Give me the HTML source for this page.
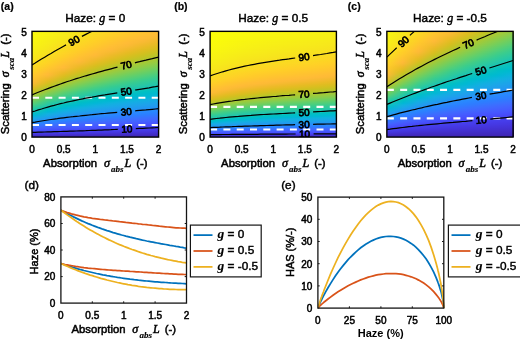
<!DOCTYPE html>
<html><head><meta charset="utf-8"><title>Haze figure</title>
<style>
html,body{margin:0;padding:0;background:#fff}
#fig{filter:blur(.35px);position:relative;width:520px;height:340px;overflow:hidden;background:#fff;font-family:"Liberation Sans",sans-serif}
.hm{position:absolute}
.hm i{display:block;height:1px;width:100%}
svg{position:absolute;left:0;top:0}
text{font-family:"Liberation Sans",sans-serif;fill:#000;stroke:#000;stroke-width:0.5px}
.t{font-size:10px}
.l{font-size:11.3px}
.h{font-size:11px}
.s{font-family:"Liberation Serif",serif;font-style:italic;font-size:12px}
.u{font-family:"Liberation Serif",serif;font-style:italic;font-size:9px;font-weight:bold;stroke-width:.15px}
.c{font-size:10px;stroke-width:.7px}
.p{font-size:10.5px;font-weight:bold;stroke-width:.2px}
.q{font-size:11.8px;stroke-width:.45px}
.g{font-family:"Liberation Serif",serif;font-style:italic;font-size:13.5px;font-weight:bold;stroke-width:.1px}
.k{font-size:11.8px;stroke-width:.45px}
.m{font-size:11.8px;stroke-width:.45px}
</style></head><body><div id="fig">
<div class="hm" style="left:32px;top:31px;width:127px;height:106px"><i style="background:linear-gradient(90deg,#fafb0a,#f8f411,#f7ed18,#f7e51c,#fadc20,#fed325,#ffcb29,#ffc42f,#ffbe34)"></i><i style="background:linear-gradient(90deg,#fafa0b,#f8f412,#f7ec18,#f7e41d,#fadb21,#fed226,#ffca2a,#ffc330,#ffbc35)"></i><i style="background:linear-gradient(90deg,#fafa0b,#f8f313,#f7eb19,#f7e31d,#fbda22,#ffd126,#ffc92b,#ffc131,#ffbb36)"></i><i style="background:linear-gradient(90deg,#faf90c,#f8f313,#f7eb19,#f8e21e,#fbd822,#ffcf27,#ffc72c,#ffc032,#feba36)"></i><i style="background:linear-gradient(90deg,#faf90d,#f8f214,#f7ea1a,#f8e11e,#fcd723,#ffce28,#ffc62d,#ffbf33,#fcba36)"></i><i style="background:linear-gradient(90deg,#f9f90d,#f7f114,#f7e91a,#f8df1f,#fcd624,#ffcd29,#ffc52f,#ffbd34,#faba34)"></i><i style="background:linear-gradient(90deg,#f9f80e,#f7f115,#f7e81b,#f9de1f,#fdd524,#ffcb29,#ffc330,#ffbc36,#f8ba33)"></i><i style="background:linear-gradient(90deg,#f9f70e,#f7f016,#f7e71b,#f9dd20,#fed325,#ffca2a,#ffc231,#ffbb36,#f5ba30)"></i><i style="background:linear-gradient(90deg,#f9f70f,#f7ef16,#f7e61c,#fadc21,#fed226,#ffc92b,#ffc032,#fdba36,#f3ba2e)"></i><i style="background:linear-gradient(90deg,#f9f610,#f7ee17,#f7e51c,#fadb21,#ffd026,#ffc72d,#ffbf33,#fbba35,#f0ba2b)"></i><i style="background:linear-gradient(90deg,#f9f610,#f7ed17,#f7e41d,#fbd922,#ffcf27,#ffc62e,#ffbd34,#f9ba34,#eeba29)"></i><i style="background:linear-gradient(90deg,#f8f511,#f7ed18,#f7e31d,#fbd823,#ffce28,#ffc42f,#ffbc36,#f7ba32,#ebbb26)"></i><i style="background:linear-gradient(90deg,#f8f411,#f7ec19,#f8e11e,#fcd723,#ffcc29,#ffc330,#ffbb36,#f4ba2f,#e8bb24)"></i><i style="background:linear-gradient(90deg,#f8f412,#f7eb19,#f8e01e,#fdd524,#ffcb2a,#ffc131,#fdba36,#f2ba2c,#e5bc23)"></i><i style="background:linear-gradient(90deg,#f8f313,#f7ea1a,#f8df1f,#fdd425,#ffc92b,#ffc033,#fbba35,#efba2a,#e2bd21)"></i><i style="background:linear-gradient(90deg,#f8f213,#f7e91a,#f9de20,#fed226,#ffc82c,#ffbe34,#f9ba33,#ecbb27,#debd20)"></i><i style="background:linear-gradient(90deg,#f7f214,#f7e81b,#f9dc20,#ffd126,#ffc62d,#ffbd35,#f6ba31,#e9bb25,#dbbe1f)"></i><i style="background:linear-gradient(90deg,#f7f115,#f7e71c,#fadb21,#ffcf27,#ffc42f,#ffbb36,#f3ba2e,#e6bc23,#d7bf1f)"></i><i style="background:linear-gradient(90deg,#f7f015,#f7e61c,#fbda22,#ffce28,#ffc330,#feba36,#f1ba2b,#e2bc21,#d3c01f)"></i><i style="background:linear-gradient(90deg,#f7ef16,#f7e41d,#fbd822,#ffcc29,#ffc131,#fbba35,#eeba29,#dfbd20,#cfc11f)"></i><i style="background:linear-gradient(90deg,#f7ee17,#f7e31d,#fcd723,#ffca2a,#ffbf33,#f9ba34,#ebbb26,#dbbe20,#cbc220)"></i><i style="background:linear-gradient(90deg,#f7ed17,#f8e21e,#fdd524,#ffc92b,#ffbe34,#f6ba31,#e7bb24,#d7bf1f,#c6c322)"></i><i style="background:linear-gradient(90deg,#f7ec18,#f8e11e,#fed425,#ffc72d,#ffbc35,#f3ba2e,#e4bc22,#d3c01f,#c1c424)"></i><i style="background:linear-gradient(90deg,#f7eb19,#f8df1f,#fed226,#ffc52e,#ffbb36,#f0ba2b,#e0bd21,#cfc11f,#bdc527)"></i><i style="background:linear-gradient(90deg,#f7ea19,#f9de20,#ffd026,#ffc42f,#fdba36,#edba28,#dcbe20,#cac220,#b8c62a)"></i><i style="background:linear-gradient(90deg,#f7e91a,#f9dc20,#ffcf27,#ffc231,#faba35,#eabb26,#d8bf1f,#c6c322,#b2c72d)"></i><i style="background:linear-gradient(90deg,#f7e81b,#fadb21,#ffcd28,#ffc032,#f7ba32,#e7bc23,#d4c01f,#c1c425,#adc831)"></i><i style="background:linear-gradient(90deg,#f7e71b,#fbd922,#ffcb2a,#ffbe34,#f4ba2f,#e3bc22,#d0c11f,#bcc528,#a8c934)"></i><i style="background:linear-gradient(90deg,#f7e61c,#fcd823,#ffc92b,#ffbd35,#f1ba2c,#dfbd20,#cbc220,#b6c62b,#a3ca38)"></i><i style="background:linear-gradient(90deg,#f7e41d,#fcd624,#ffc82c,#ffbb36,#eeba29,#dbbe1f,#c6c322,#b1c72e,#9dca3c)"></i><i style="background:linear-gradient(90deg,#f7e31d,#fdd424,#ffc62e,#fdba36,#ebbb26,#d6bf1f,#c1c425,#abc832,#98cb40)"></i><i style="background:linear-gradient(90deg,#f8e21e,#fed325,#ffc42f,#faba35,#e7bc24,#d2c01f,#bbc528,#a6c935,#92cc44)"></i><i style="background:linear-gradient(90deg,#f8e01e,#ffd126,#ffc231,#f7ba32,#e3bc22,#cdc120,#b6c62b,#a1ca39,#8dcd49)"></i><i style="background:linear-gradient(90deg,#f8df1f,#ffcf27,#ffc032,#f4ba2f,#dfbd20,#c8c321,#b0c72f,#9bcb3d,#87cd4d)"></i><i style="background:linear-gradient(90deg,#f9dd20,#ffcd28,#ffbe34,#f0ba2b,#dabe1f,#c2c424,#aac832,#95cc42,#81ce52)"></i><i style="background:linear-gradient(90deg,#fadc21,#ffcb2a,#ffbc36,#edba28,#d5bf1f,#bcc527,#a5c936,#90cc46,#7bce57)"></i><i style="background:linear-gradient(90deg,#fada22,#ffc92b,#ffbb37,#e9bb25,#d0c11f,#b6c62b,#9fca3a,#8acd4b,#74cf5b)"></i><i style="background:linear-gradient(90deg,#fbd823,#ffc72d,#fcba35,#e5bc22,#cbc220,#b0c72f,#99cb3f,#83cd50,#6ecf60)"></i><i style="background:linear-gradient(90deg,#fcd623,#ffc52e,#f8ba33,#e0bd21,#c5c322,#aac832,#93cc44,#7dce55,#67cf65)"></i><i style="background:linear-gradient(90deg,#fdd424,#ffc330,#f5ba30,#dbbe20,#bfc426,#a4c936,#8dcd49,#76cf5a,#61cf6b)"></i><i style="background:linear-gradient(90deg,#fed225,#ffc132,#f1ba2c,#d6bf1f,#b9c629,#9eca3b,#87cd4e,#70cf5f,#5bcf70)"></i><i style="background:linear-gradient(90deg,#ffd026,#ffbf33,#edba28,#d1c01f,#b2c72d,#98cb40,#80ce53,#69cf64,#55cf75)"></i><i style="background:linear-gradient(90deg,#ffce28,#ffbc35,#e9bb25,#cbc220,#acc831,#92cc45,#79ce58,#63cf69,#4fcf7a)"></i><i style="background:linear-gradient(90deg,#ffcc29,#ffbb36,#e4bc22,#c5c323,#a6c936,#8bcd4a,#72cf5d,#5ccf6f,#49ce80)"></i><i style="background:linear-gradient(90deg,#ffca2a,#fcba35,#dfbd21,#bfc426,#9fca3a,#84cd50,#6bcf63,#56cf75,#43ce85)"></i><i style="background:linear-gradient(90deg,#ffc82c,#f8ba33,#dabe1f,#b8c62a,#98cb3f,#7dce55,#64cf68,#50cf7a,#3dcd8a)"></i><i style="background:linear-gradient(90deg,#ffc52e,#f4ba2f,#d4c01f,#b0c72e,#92cc45,#76cf5a,#5ecf6e,#4ace7f,#38cd8f)"></i><i style="background:linear-gradient(90deg,#ffc330,#f0ba2b,#cec11f,#aac833,#8acd4b,#6ecf60,#57cf74,#43ce84,#34cc93)"></i><i style="background:linear-gradient(90deg,#ffc132,#ecbb27,#c8c221,#a3ca38,#83ce50,#67cf66,#51cf79,#3dcd8a,#31cb98)"></i><i style="background:linear-gradient(90deg,#ffbe34,#e7bc23,#c1c425,#9ccb3d,#7bce56,#60cf6c,#4ace7f,#38cd8f,#2dca9d)"></i><i style="background:linear-gradient(90deg,#ffbc36,#e1bd21,#b9c529,#94cc43,#74cf5c,#59cf72,#43ce84,#34cc94,#2bc8a1)"></i><i style="background:linear-gradient(90deg,#feba36,#dcbe20,#b2c72e,#8dcd49,#6ccf62,#52cf78,#3dcd8a,#30cb99,#28c7a6)"></i><i style="background:linear-gradient(90deg,#faba34,#d6bf1f,#aac832,#85cd4f,#64cf68,#4bce7e,#38cc8f,#2dc99d,#24c6aa)"></i><i style="background:linear-gradient(90deg,#f6ba31,#cfc11f,#a3ca38,#7dce55,#5ccf6f,#44ce84,#33cb95,#2ac8a2,#20c5ae)"></i><i style="background:linear-gradient(90deg,#f1ba2c,#c8c221,#9bcb3d,#74cf5b,#55cf76,#3dcd8a,#30ca9a,#27c7a7,#1ac4b3)"></i><i style="background:linear-gradient(90deg,#edbb28,#c0c425,#93cc44,#6ccf62,#4ecf7c,#37cc8f,#2cc99f,#23c6ab,#13c3b7)"></i><i style="background:linear-gradient(90deg,#e7bb24,#b8c62a,#8bcd4a,#63cf69,#46ce82,#33cb95,#29c8a4,#1ec4b0,#0dc2bb)"></i><i style="background:linear-gradient(90deg,#e1bd21,#afc72f,#82ce51,#5bcf70,#3fce88,#2fca9b,#26c6a8,#18c3b4,#06c1bf)"></i><i style="background:linear-gradient(90deg,#dbbe1f,#a7c934,#79ce58,#53cf77,#38cd8f,#2cc9a0,#21c5ad,#11c2b8,#00bfc2)"></i><i style="background:linear-gradient(90deg,#d4c01f,#9fca3a,#70cf5f,#4bcf7e,#33cb95,#28c7a5,#1bc4b2,#0ac1bc,#00bec6)"></i><i style="background:linear-gradient(90deg,#cdc120,#96cb41,#67cf66,#43ce85,#2fca9a,#24c6aa,#14c3b7,#02c0c1,#00bdca)"></i><i style="background:linear-gradient(90deg,#c4c323,#8ecc48,#5ecf6e,#3ccd8b,#2bc9a0,#1fc5af,#0dc2bb,#00bfc5,#00bbce)"></i><i style="background:linear-gradient(90deg,#bcc528,#84cd4f,#56cf75,#35cc92,#28c7a6,#18c3b4,#05c0bf,#00bdc8,#00b9d1)"></i><i style="background:linear-gradient(90deg,#b2c72d,#7bce57,#4dcf7d,#31cb98,#23c6ab,#10c2b9,#00bfc3,#00bccc,#00b8d5)"></i><i style="background:linear-gradient(90deg,#a9c933,#71cf5e,#44ce84,#2dc99e,#1dc4b0,#08c1bd,#00bec7,#00bad0,#06b6d8)"></i><i style="background:linear-gradient(90deg,#a0ca39,#67cf66,#3ccd8b,#29c8a4,#16c3b6,#00c0c2,#00bccb,#00b8d4,#0bb3db)"></i><i style="background:linear-gradient(90deg,#97cb40,#5dcf6e,#35cc92,#24c6aa,#0dc2ba,#00bec6,#00bad0,#05b6d8,#10b1df)"></i><i style="background:linear-gradient(90deg,#8ecc48,#54cf76,#30ca99,#1ec4b0,#04c0bf,#00bccb,#00b8d4,#0bb4db,#13afe2)"></i><i style="background:linear-gradient(90deg,#84cd50,#4bce7e,#2cc9a0,#16c3b6,#00bfc4,#00bbcf,#05b6d7,#10b1de,#15ace4)"></i><i style="background:linear-gradient(90deg,#79ce58,#41ce86,#27c7a6,#0dc2bb,#00bdc9,#00b8d3,#0bb4db,#13afe2,#18a9e6)"></i><i style="background:linear-gradient(90deg,#6ecf60,#39cd8e,#22c5ac,#03c0c0,#00bbcd,#04b6d7,#10b1df,#16ace4,#1aa7e8)"></i><i style="background:linear-gradient(90deg,#64cf69,#32cb96,#1ac4b3,#00bec5,#00b9d2,#0bb4db,#13aee2,#18a9e7,#1ca4ea)"></i><i style="background:linear-gradient(90deg,#5acf72,#2dca9d,#11c2b9,#00bcca,#03b7d6,#10b1df,#16abe5,#1aa6e9,#1ea1eb)"></i><i style="background:linear-gradient(90deg,#50cf7a,#29c8a4,#06c1be,#00bacf,#0ab4db,#14aee2,#18a8e7,#1da3ea,#209eed)"></i><i style="background:linear-gradient(90deg,#45ce83,#23c6ab,#00bfc4,#00b8d4,#10b1df,#16abe5,#1ba5e9,#1fa0ec,#219af0)"></i><i style="background:linear-gradient(90deg,#3ccd8b,#1cc4b2,#00bdca,#07b5d9,#14aee2,#19a8e8,#1da2eb,#209cee,#2397f2)"></i><i style="background:linear-gradient(90deg,#34cc94,#11c2b8,#00bacf,#0eb2dd,#17abe5,#1ca4ea,#1f9eed,#2199f1,#2594f5)"></i><i style="background:linear-gradient(90deg,#2eca9c,#05c0bf,#00b8d5,#13afe1,#19a7e8,#1ea1eb,#209bef,#2496f3,#2890f7)"></i><i style="background:linear-gradient(90deg,#29c8a3,#00bec6,#09b4da,#16abe5,#1ca3ea,#209dee,#2297f2,#2792f6,#288dfa)"></i><i style="background:linear-gradient(90deg,#24c6ab,#00bccc,#10b1df,#19a7e8,#1fa0ec,#2199f1,#2593f5,#288ef9,#2989fd)"></i><i style="background:linear-gradient(90deg,#1bc4b2,#00b9d2,#14ade3,#1ca3ea,#209cef,#2495f4,#288ff8,#298bfc,#2986ff)"></i><i style="background:linear-gradient(90deg,#0fc2ba,#06b5d8,#18a9e7,#1f9fec,#2298f2,#2791f7,#288cfb,#2987ff,#2a82ff)"></i><i style="background:linear-gradient(90deg,#00c0c2,#0fb2de,#1ba5e9,#209bef,#2693f5,#288dfa,#2988fe,#2a83ff,#2c7eff)"></i><i style="background:linear-gradient(90deg,#00bdca,#14ade3,#1ea0ec,#2396f3,#288ff9,#2989fd,#2a84ff,#2b80ff,#307aff)"></i><i style="background:linear-gradient(90deg,#00b9d1,#18a9e7,#209bef,#2792f6,#298bfc,#2a85ff,#2b80ff,#2f7bff,#3476ff)"></i><i style="background:linear-gradient(90deg,#07b5d9,#1ca3ea,#2396f3,#288dfa,#2987ff,#2b81ff,#2e7cff,#3377ff,#3972ff)"></i><i style="background:linear-gradient(90deg,#11b0e0,#1f9eed,#2791f7,#2989fe,#2a82ff,#2d7dff,#3378ff,#3872ff,#3d6dff)"></i><i style="background:linear-gradient(90deg,#16abe5,#2299f1,#288cfb,#2a84ff,#2c7eff,#3278ff,#3773ff,#3c6eff,#4069ff)"></i><i style="background:linear-gradient(90deg,#1ba5e9,#2693f6,#2987ff,#2b80ff,#3179ff,#3773ff,#3c6eff,#3f6aff,#4265ff)"></i><i style="background:linear-gradient(90deg,#1f9eed,#288dfa,#2a83ff,#2f7bff,#3674ff,#3c6fff,#3f6aff,#4265ff,#4361ff)"></i><i style="background:linear-gradient(90deg,#2298f2,#2987ff,#2d7dff,#3575ff,#3b6fff,#3f6aff,#4265ff,#4361ff,#445dff)"></i><i style="background:linear-gradient(90deg,#2890f7,#2b82ff,#3378ff,#3b70ff,#3f6aff,#4265ff,#4361ff,#445cff,#4558ff)"></i><i style="background:linear-gradient(90deg,#298afd,#2f7cff,#3971ff,#3f6aff,#4265ff,#4360ff,#455cff,#4558ff,#4654ff)"></i><i style="background:linear-gradient(90deg,#2a83ff,#3675ff,#3e6cff,#4265ff,#4360ff,#455cff,#4558ff,#4654ff,#4650fc)"></i><i style="background:linear-gradient(90deg,#2f7bff,#3c6eff,#4166ff,#4360ff,#455bff,#4557ff,#4653fe,#464ffc,#464cf9)"></i><i style="background:linear-gradient(90deg,#3773ff,#4167ff,#4360ff,#455bff,#4656ff,#4652fe,#464ffb,#464bf8,#4647f5)"></i><i style="background:linear-gradient(90deg,#3f6bff,#4361ff,#455aff,#4655ff,#4651fd,#464dfa,#464af7,#4646f4,#4643f1)"></i><i style="background:linear-gradient(90deg,#4363ff,#455aff,#4654ff,#4650fc,#464cf9,#4649f6,#4645f3,#4642f0,#463fed)"></i><i style="background:linear-gradient(90deg,#455bff,#4653fe,#464efb,#464af8,#4647f5,#4644f2,#4640ee,#463eeb,#463be8)"></i><i style="background:linear-gradient(90deg,#4652fe,#464dfa,#4648f6,#4645f3,#4642f0,#463fec,#463ce9,#453ae6,#4538e2)"></i><i style="background:linear-gradient(90deg,#464af8,#4646f4,#4642f0,#463fed,#463ce9,#453ae6,#4538e3,#4536df,#4435dc)"></i><i style="background:linear-gradient(90deg,#4642f0,#463fec,#463ce9,#453ae5,#4538e2,#4536de,#4434db,#4433d8,#4332d5)"></i><i style="background:linear-gradient(90deg,#453ae6,#4538e3,#4536df,#4435dc,#4433d8,#4432d5,#4331d2,#4330cf,#422fcd)"></i><i style="background:linear-gradient(90deg,#4434da,#4432d6,#4331d3,#4330d0,#422fcd,#422ecb,#422ec9,#422dc7,#412cc5)"></i><i style="background:linear-gradient(90deg,#422eca,#422dc8,#412dc6,#412cc4,#412bc2,#412bc1,#402abf,#402abe,#4029bd)"></i><i style="background:linear-gradient(90deg,#4028ba,#3f28b9,#3f28b8,#3f27b7,#3f27b7,#3f27b6,#3f27b5,#3f27b5,#3f26b4)"></i></div>
<div class="hm" style="left:210px;top:31px;width:127px;height:106px"><i style="background:linear-gradient(90deg,#fbfd08,#fbfd08,#fafa0b,#f9f80d,#f9f70f,#f8f511,#f8f412,#f8f214,#f7f015)"></i><i style="background:linear-gradient(90deg,#fbfd08,#fbfc09,#fafa0c,#f9f80e,#f9f610,#f8f511,#f8f313,#f7f114,#f7ef16)"></i><i style="background:linear-gradient(90deg,#fbfd08,#fafc09,#faf90c,#f9f70e,#f8f610,#f8f412,#f8f213,#f7f115,#f7ef16)"></i><i style="background:linear-gradient(90deg,#fbfd08,#fafb0a,#faf90d,#f9f70f,#f8f511,#f8f312,#f8f214,#f7f015,#f7ee17)"></i><i style="background:linear-gradient(90deg,#fbfd08,#fafb0a,#f9f90d,#f9f610,#f8f511,#f8f313,#f7f114,#f7ef16,#f7ed17)"></i><i style="background:linear-gradient(90deg,#fbfd08,#fafb0b,#f9f80e,#f9f610,#f8f412,#f8f213,#f7f115,#f7ef16,#f7ed18)"></i><i style="background:linear-gradient(90deg,#fbfd08,#fafa0b,#f9f80e,#f8f511,#f8f312,#f7f214,#f7f015,#f7ee17,#f7ec19)"></i><i style="background:linear-gradient(90deg,#fbfd08,#fafa0c,#f9f70f,#f8f511,#f8f313,#f7f115,#f7ef16,#f7ed17,#f7eb19)"></i><i style="background:linear-gradient(90deg,#fbfd08,#faf90c,#f9f70f,#f8f412,#f8f214,#f7f015,#f7ef16,#f7ed18,#f7ea1a)"></i><i style="background:linear-gradient(90deg,#fbfc09,#f9f90d,#f9f610,#f8f412,#f7f214,#f7f016,#f7ee17,#f7ec18,#f7e91a)"></i><i style="background:linear-gradient(90deg,#fafc09,#f9f80d,#f8f510,#f8f313,#f7f115,#f7ef16,#f7ed18,#f7eb19,#f7e91a)"></i><i style="background:linear-gradient(90deg,#fafb0a,#f9f80e,#f8f511,#f8f213,#f7f015,#f7ee17,#f7ec18,#f7ea1a,#f7e81b)"></i><i style="background:linear-gradient(90deg,#fafb0a,#f9f70e,#f8f412,#f7f214,#f7f016,#f7ee17,#f7ec19,#f7e91a,#f7e71b)"></i><i style="background:linear-gradient(90deg,#fafb0b,#f9f70f,#f8f412,#f7f115,#f7ef16,#f7ed18,#f7eb19,#f7e91b,#f7e61c)"></i><i style="background:linear-gradient(90deg,#fafa0b,#f9f610,#f8f313,#f7f015,#f7ee17,#f7ec18,#f7ea1a,#f7e81b,#f7e51c)"></i><i style="background:linear-gradient(90deg,#fafa0c,#f9f610,#f8f213,#f7f016,#f7ed17,#f7eb19,#f7e91a,#f7e71b,#f7e41d)"></i><i style="background:linear-gradient(90deg,#faf90c,#f8f511,#f7f214,#f7ef16,#f7ec18,#f7ea19,#f7e81b,#f7e61c,#f7e31d)"></i><i style="background:linear-gradient(90deg,#f9f90d,#f8f511,#f7f115,#f7ee17,#f7ec19,#f7e91a,#f7e71b,#f7e51c,#f8e21e)"></i><i style="background:linear-gradient(90deg,#f9f80e,#f8f412,#f7f015,#f7ed17,#f7eb19,#f7e81b,#f7e61c,#f7e41d,#f8e11e)"></i><i style="background:linear-gradient(90deg,#f9f80e,#f8f313,#f7f016,#f7ec18,#f7ea1a,#f7e71b,#f7e51c,#f7e31d,#f8e01f)"></i><i style="background:linear-gradient(90deg,#f9f70f,#f8f313,#f7ef16,#f7ec19,#f7e91a,#f7e71c,#f7e41d,#f8e21e,#f9de1f)"></i><i style="background:linear-gradient(90deg,#f9f610,#f7f214,#f7ee17,#f7eb19,#f7e81b,#f7e51c,#f7e31d,#f8e01e,#f9dd20)"></i><i style="background:linear-gradient(90deg,#f8f610,#f7f115,#f7ed18,#f7ea1a,#f7e71b,#f7e41d,#f8e21e,#f8df1f,#fadc20)"></i><i style="background:linear-gradient(90deg,#f8f511,#f7f015,#f7ec18,#f7e91a,#f7e61c,#f7e31d,#f8e11e,#f9de1f,#fadb21)"></i><i style="background:linear-gradient(90deg,#f8f412,#f7ef16,#f7eb19,#f7e81b,#f7e51c,#f7e21e,#f8e01f,#f9dd20,#fbd922)"></i><i style="background:linear-gradient(90deg,#f8f412,#f7ef16,#f7ea19,#f7e71b,#f7e41d,#f8e11e,#f9de1f,#fadb21,#fbd823)"></i><i style="background:linear-gradient(90deg,#f8f313,#f7ee17,#f7e91a,#f7e61c,#f7e31d,#f8e01f,#f9dd20,#fada21,#fcd723)"></i><i style="background:linear-gradient(90deg,#f8f214,#f7ed18,#f7e81b,#f7e51c,#f8e11e,#f9df1f,#fadc21,#fbd922,#fdd524)"></i><i style="background:linear-gradient(90deg,#f7f114,#f7ec18,#f7e71b,#f7e31d,#f8e01e,#f9dd20,#fada21,#fcd723,#fdd425)"></i><i style="background:linear-gradient(90deg,#f7f115,#f7eb19,#f7e61c,#f7e21e,#f8df1f,#fadc21,#fbd922,#fcd624,#fed225)"></i><i style="background:linear-gradient(90deg,#f7f016,#f7ea1a,#f7e51c,#f8e11e,#f9de20,#fada21,#fcd823,#fdd424,#ffd126)"></i><i style="background:linear-gradient(90deg,#f7ef16,#f7e91a,#f7e41d,#f8e01f,#f9dc20,#fbd922,#fcd624,#fed325,#ffcf27)"></i><i style="background:linear-gradient(90deg,#f7ee17,#f7e81b,#f7e31d,#f9de1f,#fadb21,#fcd823,#fdd524,#ffd126,#ffce28)"></i><i style="background:linear-gradient(90deg,#f7ed18,#f7e71c,#f8e11e,#f9dd20,#fbd922,#fcd624,#fed325,#ffd027,#ffcc29)"></i><i style="background:linear-gradient(90deg,#f7ec18,#f7e51c,#f8e01f,#fadb21,#fbd823,#fdd524,#ffd126,#ffce28,#ffca2a)"></i><i style="background:linear-gradient(90deg,#f7eb19,#f7e41d,#f9df1f,#fada21,#fcd623,#fed325,#ffd027,#ffcc29,#ffc92b)"></i><i style="background:linear-gradient(90deg,#f7ea1a,#f7e31d,#f9dd20,#fbd822,#fdd524,#ffd126,#ffce28,#ffcb2a,#ffc72d)"></i><i style="background:linear-gradient(90deg,#f7e91b,#f8e21e,#fadc21,#fcd723,#fed325,#ffd027,#ffcc29,#ffc92b,#ffc52e)"></i><i style="background:linear-gradient(90deg,#f7e71b,#f8e01e,#fada21,#fdd524,#ffd126,#ffce28,#ffcb2a,#ffc72c,#ffc42f)"></i><i style="background:linear-gradient(90deg,#f7e61c,#f9df1f,#fbd922,#fed425,#ffd027,#ffcc29,#ffc92b,#ffc62e,#ffc231)"></i><i style="background:linear-gradient(90deg,#f7e51c,#f9dd20,#fcd723,#fed226,#ffce28,#ffca2a,#ffc72d,#ffc42f,#ffc032)"></i><i style="background:linear-gradient(90deg,#f7e31d,#fadb21,#fdd524,#ffd027,#ffcc29,#ffc82b,#ffc52e,#ffc231,#ffbe34)"></i><i style="background:linear-gradient(90deg,#f8e21e,#fada22,#fed325,#ffce28,#ffca2a,#ffc72d,#ffc32f,#ffc032,#ffbc35)"></i><i style="background:linear-gradient(90deg,#f8e01e,#fbd822,#fed226,#ffcc29,#ffc82c,#ffc52e,#ffc131,#ffbe34,#ffbb36)"></i><i style="background:linear-gradient(90deg,#f8df1f,#fcd623,#ffd027,#ffca2a,#ffc62d,#ffc330,#ffc033,#ffbc35,#fdba36)"></i><i style="background:linear-gradient(90deg,#f9dd20,#fdd524,#ffce28,#ffc92b,#ffc42f,#ffc132,#ffbe34,#ffbb36,#faba34)"></i><i style="background:linear-gradient(90deg,#fadb21,#fed325,#ffcc29,#ffc72d,#ffc230,#ffbf33,#ffbc36,#fdba36,#f7ba32)"></i><i style="background:linear-gradient(90deg,#fbda22,#ffd126,#ffca2a,#ffc52e,#ffc032,#ffbd35,#febb37,#f9ba34,#f3ba2e)"></i><i style="background:linear-gradient(90deg,#fcd823,#ffcf27,#ffc82c,#ffc330,#ffbe34,#ffbb36,#fbba35,#f6ba31,#f0ba2b)"></i><i style="background:linear-gradient(90deg,#fcd624,#ffcd29,#ffc62e,#ffc032,#ffbc35,#fdba36,#f8ba33,#f3ba2e,#ecbb27)"></i><i style="background:linear-gradient(90deg,#fdd425,#ffcb2a,#ffc42f,#ffbe34,#ffbb36,#faba34,#f5ba30,#efba2a,#e8bb24)"></i><i style="background:linear-gradient(90deg,#fed226,#ffc82b,#ffc131,#ffbc35,#fcba36,#f6ba31,#f1ba2c,#ebbb26,#e4bc22)"></i><i style="background:linear-gradient(90deg,#ffd027,#ffc62d,#ffbf33,#ffbb36,#f9ba33,#f3ba2e,#edba28,#e7bc24,#dfbd20)"></i><i style="background:linear-gradient(90deg,#ffcd28,#ffc42f,#ffbd35,#fcba35,#f5ba30,#efba2a,#e9bb25,#e2bc21,#dabe1f)"></i><i style="background:linear-gradient(90deg,#ffcb2a,#ffc231,#ffbb36,#f8ba33,#f1ba2c,#ebbb26,#e4bc22,#ddbe20,#d5bf1f)"></i><i style="background:linear-gradient(90deg,#ffc92b,#ffbf33,#fdba36,#f4ba2f,#edba28,#e6bc23,#e0bd21,#d8bf1f,#d0c11f)"></i><i style="background:linear-gradient(90deg,#ffc72d,#ffbd35,#f9ba34,#f1ba2b,#e9bb25,#e2bd21,#dabe1f,#d3c01f,#cac221)"></i><i style="background:linear-gradient(90deg,#ffc42f,#ffbb36,#f5ba30,#ecbb27,#e4bc22,#dcbe20,#d5bf1f,#cdc120,#c3c323)"></i><i style="background:linear-gradient(90deg,#ffc231,#fdba36,#f1ba2c,#e8bb24,#dfbd20,#d7bf1f,#cfc11f,#c6c322,#bdc527)"></i><i style="background:linear-gradient(90deg,#ffbf33,#f9ba33,#edba28,#e3bc21,#d9be1f,#d1c01f,#c9c221,#c0c425,#b6c62b)"></i><i style="background:linear-gradient(90deg,#ffbd35,#f4ba2f,#e8bb24,#ddbe20,#d3c01f,#cac220,#c2c424,#b9c629,#aec830)"></i><i style="background:linear-gradient(90deg,#ffbb37,#f0ba2b,#e3bc22,#d7bf1f,#cdc120,#c4c323,#bbc528,#b1c72e,#a7c935)"></i><i style="background:linear-gradient(90deg,#fbba35,#ebbb27,#ddbe20,#d1c01f,#c6c322,#bcc527,#b3c72d,#a9c833,#9fca3b)"></i><i style="background:linear-gradient(90deg,#f7ba32,#e6bc23,#d7bf1f,#cac220,#bfc426,#b5c62c,#abc832,#a1ca39,#96cb41)"></i><i style="background:linear-gradient(90deg,#f2ba2d,#e0bd21,#d0c01f,#c3c424,#b7c62a,#adc831,#a3ca37,#99cb3f,#8ecc48)"></i><i style="background:linear-gradient(90deg,#edba28,#dabe1f,#c9c221,#bbc528,#afc82f,#a4c936,#9acb3e,#90cc46,#85cd4f)"></i><i style="background:linear-gradient(90deg,#e7bb24,#d3c01f,#c2c424,#b3c72d,#a6c935,#9ccb3d,#92cc45,#87cd4d,#7cce56)"></i><i style="background:linear-gradient(90deg,#e1bd21,#ccc220,#b9c529,#aac832,#9eca3b,#93cc44,#89cd4c,#7ece54,#72cf5d)"></i><i style="background:linear-gradient(90deg,#dbbe1f,#c4c323,#b1c72e,#a1ca39,#95cc42,#89cd4b,#7fce53,#74cf5c,#68cf65)"></i><i style="background:linear-gradient(90deg,#d3c01f,#bbc528,#a8c934,#98cb40,#8bcd4a,#80ce53,#75cf5b,#6acf63,#5fcf6d)"></i><i style="background:linear-gradient(90deg,#cbc220,#b2c72d,#9fca3b,#8fcc47,#81ce52,#75cf5b,#6bcf63,#60cf6b,#56cf75)"></i><i style="background:linear-gradient(90deg,#c3c424,#a9c933,#95cc42,#85cd4f,#77cf5a,#6bcf63,#61cf6b,#57cf74,#4dcf7d)"></i><i style="background:linear-gradient(90deg,#b9c629,#9fca3a,#8bcd4a,#7ace57,#6ccf62,#61cf6b,#57cf73,#4ecf7c,#43ce84)"></i><i style="background:linear-gradient(90deg,#afc72f,#95cc42,#80ce53,#6fcf5f,#62cf6a,#57cf74,#4ecf7c,#44ce84,#3bcd8c)"></i><i style="background:linear-gradient(90deg,#a5c936,#8bcd4a,#75cf5b,#64cf68,#58cf73,#4ecf7c,#44ce84,#3ccd8b,#34cc93)"></i><i style="background:linear-gradient(90deg,#9bcb3e,#80ce53,#6acf64,#5acf71,#4ecf7c,#44ce84,#3bcd8c,#34cc93,#2fca9a)"></i><i style="background:linear-gradient(90deg,#90cc46,#74cf5c,#5fcf6d,#50cf7a,#44ce84,#3bcd8c,#34cc93,#2fca9a,#2bc8a1)"></i><i style="background:linear-gradient(90deg,#84cd4f,#68cf65,#54cf76,#45ce83,#3acd8c,#33cc94,#2fca9b,#2bc8a1,#26c7a8)"></i><i style="background:linear-gradient(90deg,#78ce59,#5dcf6f,#49ce7f,#3bcd8b,#33cb94,#2eca9c,#2ac8a2,#26c7a8,#1fc5af)"></i><i style="background:linear-gradient(90deg,#6bcf62,#52cf79,#3fce88,#34cc94,#2eca9c,#2ac8a3,#25c6a9,#1fc5af,#16c3b5)"></i><i style="background:linear-gradient(90deg,#5fcf6c,#46ce82,#36cc91,#2eca9c,#29c8a4,#24c6aa,#1ec4b0,#16c3b6,#0bc1bc)"></i><i style="background:linear-gradient(90deg,#54cf77,#3ccd8b,#30ca99,#29c8a4,#23c6ab,#1cc4b1,#14c3b7,#0ac1bc,#00bfc2)"></i><i style="background:linear-gradient(90deg,#48ce81,#33cc94,#2ac8a2,#23c6ab,#1bc4b2,#11c2b8,#07c1be,#00bfc3,#00bdc8)"></i><i style="background:linear-gradient(90deg,#3ccd8b,#2dca9d,#25c6a9,#1bc4b2,#0fc2ba,#04c0c0,#00bfc5,#00bdca,#00bbcf)"></i><i style="background:linear-gradient(90deg,#33cc94,#28c7a5,#1cc4b1,#0ec2ba,#01c0c1,#00bec7,#00bccc,#00bad0,#00b8d5)"></i><i style="background:linear-gradient(90deg,#2dc99d,#21c5ad,#10c2b9,#00bfc2,#00bdc9,#00bbce,#00b9d2,#03b6d7,#0ab4da)"></i><i style="background:linear-gradient(90deg,#27c7a6,#16c3b5,#00c0c1,#00bdca,#00bad0,#00b7d5,#07b5d9,#0db3dc,#11b0e0)"></i><i style="background:linear-gradient(90deg,#1fc5af,#06c1bf,#00bdca,#00b9d1,#04b6d7,#0bb3db,#10b1df,#13aee2,#16ace4)"></i><i style="background:linear-gradient(90deg,#12c2b8,#00bec8,#00b9d2,#07b5d9,#0eb2de,#13afe1,#15ace4,#17aae6,#19a7e8)"></i><i style="background:linear-gradient(90deg,#00bfc2,#00bad0,#08b5d9,#11b1df,#15ade3,#17aae6,#19a7e8,#1ba5e9,#1da2eb)"></i><i style="background:linear-gradient(90deg,#00bccc,#07b5d9,#12b0e0,#16abe5,#19a8e8,#1ca4e9,#1ea2eb,#1f9fec,#209dee)"></i><i style="background:linear-gradient(90deg,#02b7d6,#12b0e0,#17aae6,#1ba5e9,#1ea2eb,#1f9fed,#209cee,#219af0,#2297f2)"></i><i style="background:linear-gradient(90deg,#10b1df,#18a9e6,#1ca4ea,#1f9fec,#209cef,#2299f1,#2496f3,#2593f5,#2791f6)"></i><i style="background:linear-gradient(90deg,#17aae6,#1da2ea,#209dee,#2299f1,#2495f4,#2792f6,#288ff8,#288dfa,#298bfc)"></i><i style="background:linear-gradient(90deg,#1da2eb,#209bef,#2496f3,#2791f6,#288ef9,#298bfc,#2989fe,#2986ff,#2a85ff)"></i><i style="background:linear-gradient(90deg,#219af0,#2693f5,#288ef9,#298afd,#2987ff,#2a84ff,#2b81ff,#2b7fff,#2d7eff)"></i><i style="background:linear-gradient(90deg,#2890f7,#298afc,#2986ff,#2a82ff,#2c7fff,#2e7cff,#317aff,#3377ff,#3576ff)"></i><i style="background:linear-gradient(90deg,#2987ff,#2b82ff,#2d7dff,#3179ff,#3476ff,#3773ff,#3971ff,#3b6fff,#3d6dff)"></i><i style="background:linear-gradient(90deg,#2d7dff,#3378ff,#3773ff,#3b70ff,#3d6dff,#3f6aff,#4068ff,#4167ff,#4165ff)"></i><i style="background:linear-gradient(90deg,#3972ff,#3d6dff,#3f69ff,#4166ff,#4264ff,#4362ff,#4360ff,#445fff,#445eff)"></i><i style="background:linear-gradient(90deg,#4166ff,#4362ff,#445fff,#445dff,#455bff,#4559ff,#4558ff,#4657ff,#4656ff)"></i><i style="background:linear-gradient(90deg,#455bff,#4558ff,#4656ff,#4654ff,#4652fd,#4651fd,#464ffc,#464efb,#464efa)"></i><i style="background:linear-gradient(90deg,#4650fc,#464efa,#464cf9,#464af8,#4649f6,#4648f6,#4647f5,#4646f4,#4645f3)"></i><i style="background:linear-gradient(90deg,#4644f3,#4643f1,#4641ef,#4640ed,#463eec,#463deb,#463dea,#463ce9,#463be8)"></i><i style="background:linear-gradient(90deg,#4537e0,#4536de,#4435dc,#4434da,#4433d9,#4433d8,#4433d7,#4432d6,#4432d5)"></i><i style="background:linear-gradient(90deg,#412cc3,#412bc2,#412bc1,#412bc0,#402ac0,#402abf,#402abf,#402abe,#402abe)"></i></div>
<div class="hm" style="left:387px;top:31px;width:127px;height:106px"><i style="background:linear-gradient(90deg,#f9f70f,#f7ea1a,#fbda22,#ffc82c,#feba36,#e7bb24,#cdc120,#aec830,#92cc44)"></i><i style="background:linear-gradient(90deg,#f9f70f,#f7e91a,#fbd822,#ffc72d,#fbba35,#e4bc22,#c8c221,#aac833,#8ecc48)"></i><i style="background:linear-gradient(90deg,#f9f610,#f7e81b,#fcd723,#ffc52e,#f9ba34,#e1bd21,#c4c323,#a6c936,#89cd4c)"></i><i style="background:linear-gradient(90deg,#f8f610,#f7e71b,#fdd524,#ffc42f,#f6ba31,#ddbe20,#c0c425,#a1ca39,#84cd50)"></i><i style="background:linear-gradient(90deg,#f8f511,#f7e61c,#fdd425,#ffc230,#f4ba2f,#dabe1f,#bbc528,#9dcb3c,#7fce53)"></i><i style="background:linear-gradient(90deg,#f8f412,#f7e51c,#fed325,#ffc132,#f1ba2c,#d6bf1f,#b6c62b,#98cb40,#7ace57)"></i><i style="background:linear-gradient(90deg,#f8f412,#f7e41d,#ffd126,#ffbf33,#eeba29,#d2c01f,#b1c72e,#93cc44,#75cf5b)"></i><i style="background:linear-gradient(90deg,#f8f313,#f7e31d,#ffcf27,#ffbd34,#ebbb26,#cec11f,#acc831,#8ecc47,#6fcf5f)"></i><i style="background:linear-gradient(90deg,#f8f214,#f8e11e,#ffce28,#ffbc36,#e8bb24,#c9c221,#a8c934,#89cd4b,#6acf63)"></i><i style="background:linear-gradient(90deg,#f7f114,#f8e01e,#ffcc29,#ffbb36,#e5bc22,#c5c323,#a3ca37,#84cd4f,#65cf67)"></i><i style="background:linear-gradient(90deg,#f7f015,#f8df1f,#ffcb2a,#fdba36,#e1bd21,#c0c425,#9eca3b,#7fce53,#60cf6c)"></i><i style="background:linear-gradient(90deg,#f7f016,#f9dd20,#ffc92b,#faba34,#ddbe20,#bbc528,#9acb3e,#7ace57,#5bcf70)"></i><i style="background:linear-gradient(90deg,#f7ef16,#f9dc20,#ffc72c,#f7ba32,#d9be1f,#b6c62b,#95cc42,#74cf5b,#57cf74)"></i><i style="background:linear-gradient(90deg,#f7ee17,#fadb21,#ffc62e,#f4ba2f,#d5bf1f,#b0c72f,#90cc46,#6fcf5f,#52cf78)"></i><i style="background:linear-gradient(90deg,#f7ed18,#fbd922,#ffc42f,#f2ba2c,#d1c01f,#abc832,#8bcd4a,#6acf64,#4dcf7d)"></i><i style="background:linear-gradient(90deg,#f7ec18,#fcd823,#ffc230,#eeba29,#ccc120,#a6c935,#85cd4f,#64cf68,#48ce81)"></i><i style="background:linear-gradient(90deg,#f7eb19,#fcd624,#ffc032,#ebbb26,#c7c322,#a2ca38,#80ce53,#5fcf6d,#43ce85)"></i><i style="background:linear-gradient(90deg,#f7ea1a,#fdd424,#ffbf33,#e7bb24,#c2c424,#9dcb3c,#7ace57,#5acf71,#3ecd89)"></i><i style="background:linear-gradient(90deg,#f7e91a,#fed325,#ffbd35,#e4bc22,#bdc527,#97cb40,#75cf5b,#55cf76,#3acd8d)"></i><i style="background:linear-gradient(90deg,#f7e71b,#ffd126,#ffbb36,#e0bd21,#b7c62a,#92cc44,#6fcf60,#50cf7a,#36cc91)"></i><i style="background:linear-gradient(90deg,#f7e61c,#ffcf27,#feba36,#dbbe20,#b1c72e,#8dcd49,#69cf64,#4bce7e,#33cb95)"></i><i style="background:linear-gradient(90deg,#f7e51c,#ffcd28,#fbba35,#d7bf1f,#acc831,#87cd4d,#64cf69,#45ce83,#30cb99)"></i><i style="background:linear-gradient(90deg,#f7e41d,#ffcc29,#f8ba32,#d2c01f,#a7c935,#82ce51,#5ecf6d,#40ce87,#2eca9c)"></i><i style="background:linear-gradient(90deg,#f7e21e,#ffca2b,#f4ba2f,#cdc120,#a2ca38,#7cce56,#59cf72,#3ccd8b,#2bc9a0)"></i><i style="background:linear-gradient(90deg,#f8e11e,#ffc82c,#f1ba2c,#c8c221,#9ccb3c,#76cf5a,#54cf77,#38cc8f,#29c8a4)"></i><i style="background:linear-gradient(90deg,#f8df1f,#ffc62e,#edba28,#c2c424,#97cb41,#70cf5f,#4ecf7b,#34cc93,#26c7a7)"></i><i style="background:linear-gradient(90deg,#f9de20,#ffc42f,#eabb25,#bcc527,#91cc45,#6acf64,#49ce80,#31cb97,#23c6ab)"></i><i style="background:linear-gradient(90deg,#f9dc20,#ffc231,#e5bc23,#b6c62b,#8bcd4a,#64cf69,#43ce84,#2eca9b,#20c5ae)"></i><i style="background:linear-gradient(90deg,#fada21,#ffc032,#e1bd21,#afc72f,#85cd4f,#5ecf6e,#3ecd89,#2cc99f,#1bc4b2)"></i><i style="background:linear-gradient(90deg,#fbd922,#ffbe34,#dcbe20,#aac833,#7fce53,#59cf73,#3acd8d,#29c8a3,#16c3b5)"></i><i style="background:linear-gradient(90deg,#fcd723,#ffbc36,#d7bf1f,#a4c937,#79ce58,#53cf77,#35cc92,#27c7a7,#11c2b8)"></i><i style="background:linear-gradient(90deg,#fdd524,#feba36,#d2c01f,#9eca3b,#72cf5d,#4dcf7c,#32cb96,#24c6ab,#0cc1bb)"></i><i style="background:linear-gradient(90deg,#fed325,#fbba35,#ccc220,#99cb3f,#6ccf62,#47ce81,#2fca9a,#20c5ae,#06c1be)"></i><i style="background:linear-gradient(90deg,#ffd126,#f7ba32,#c6c322,#92cc44,#66cf67,#42ce86,#2dc99e,#1bc4b2,#01c0c1)"></i><i style="background:linear-gradient(90deg,#ffcf27,#f3ba2e,#bfc426,#8ccd49,#60cf6c,#3ccd8a,#2ac8a2,#16c3b6,#00bfc4)"></i><i style="background:linear-gradient(90deg,#ffcc29,#efba2a,#b8c62a,#86cd4e,#5acf72,#38cd8f,#27c7a6,#10c2b9,#00bec7)"></i><i style="background:linear-gradient(90deg,#ffca2a,#ebbb26,#b1c72e,#7fce53,#54cf77,#34cc94,#24c6aa,#0bc1bc,#00bdca)"></i><i style="background:linear-gradient(90deg,#ffc82c,#e6bc23,#abc832,#78ce58,#4ecf7c,#31cb98,#20c5ae,#05c0bf,#00bccc)"></i><i style="background:linear-gradient(90deg,#ffc62e,#e1bd21,#a5c936,#71cf5e,#47ce81,#2eca9d,#1bc4b2,#00bfc2,#00bacf)"></i><i style="background:linear-gradient(90deg,#ffc330,#dcbe20,#9eca3b,#6acf63,#41ce86,#2bc9a1,#15c3b6,#00bec5,#00b9d2)"></i><i style="background:linear-gradient(90deg,#ffc131,#d6bf1f,#98cb40,#64cf69,#3ccd8b,#28c7a5,#10c2b9,#00bdc8,#00b8d5)"></i><i style="background:linear-gradient(90deg,#ffbe33,#d0c11f,#91cc45,#5dcf6f,#37cc90,#25c6a9,#0ac1bd,#00bccb,#05b6d7)"></i><i style="background:linear-gradient(90deg,#ffbc35,#c9c221,#8acd4b,#57cf74,#33cb95,#21c5ad,#03c0c0,#00bbce,#09b4da)"></i><i style="background:linear-gradient(90deg,#feba36,#c2c424,#83ce50,#50cf7a,#30ca9a,#1cc4b1,#00bfc3,#00b9d1,#0db3dc)"></i><i style="background:linear-gradient(90deg,#faba35,#bac529,#7bce56,#49ce7f,#2cc99e,#16c3b5,#00bec7,#00b8d4,#10b1df)"></i><i style="background:linear-gradient(90deg,#f6ba31,#b2c72e,#74cf5c,#43ce85,#2ac8a3,#10c2b9,#00bdca,#04b6d7,#12afe1)"></i><i style="background:linear-gradient(90deg,#f1ba2c,#aac832,#6ccf62,#3dcd8a,#26c7a7,#09c1bd,#00bbcd,#09b4da,#14ade3)"></i><i style="background:linear-gradient(90deg,#edbb28,#a3ca37,#64cf68,#37cc90,#23c6ac,#02c0c1,#00bad1,#0db3dd,#16abe5)"></i><i style="background:linear-gradient(90deg,#e7bb24,#9ccb3d,#5dcf6e,#33cb95,#1ec4b0,#00bfc4,#00b8d4,#10b1df,#18a9e7)"></i><i style="background:linear-gradient(90deg,#e1bd21,#94cc43,#56cf75,#2fca9a,#18c3b4,#00bdc8,#04b6d7,#13afe2,#1aa7e8)"></i><i style="background:linear-gradient(90deg,#dbbe1f,#8ccd49,#4fcf7b,#2cc99f,#11c2b9,#00bccc,#09b4da,#15ade4,#1ba5e9)"></i><i style="background:linear-gradient(90deg,#d4c01f,#84cd4f,#47ce81,#29c8a4,#09c1bd,#00bacf,#0db2dd,#17aae6,#1da2ea)"></i><i style="background:linear-gradient(90deg,#ccc220,#7cce56,#40ce87,#25c6a9,#02c0c1,#00b9d3,#11b0e0,#19a8e7,#1ea0ec)"></i><i style="background:linear-gradient(90deg,#c3c323,#73cf5c,#3acd8d,#21c5ad,#00bfc5,#02b7d6,#13aee2,#1ba6e9,#1f9eed)"></i><i style="background:linear-gradient(90deg,#bac528,#6acf63,#34cc93,#1bc4b2,#00bdc9,#08b5d9,#16ace4,#1da3ea,#209bef)"></i><i style="background:linear-gradient(90deg,#b1c72e,#62cf6a,#30cb99,#14c3b7,#00bbcd,#0db3dd,#18a9e6,#1ea1eb,#2199f1)"></i><i style="background:linear-gradient(90deg,#a8c934,#5acf72,#2dc99e,#0cc1bb,#00bad1,#11b0e0,#1aa7e8,#1f9eed,#2396f3)"></i><i style="background:linear-gradient(90deg,#9fca3a,#51cf79,#29c8a4,#03c0c0,#00b8d5,#14aee2,#1ca4e9,#209cef,#2594f5)"></i><i style="background:linear-gradient(90deg,#97cb41,#49ce80,#25c6a9,#00bfc5,#06b5d8,#16abe5,#1ea2eb,#2199f1,#2791f7)"></i><i style="background:linear-gradient(90deg,#8dcc48,#41ce87,#20c5ae,#00bdc9,#0cb3dc,#18a9e7,#1f9fec,#2396f3,#288ef9)"></i><i style="background:linear-gradient(90deg,#84cd50,#39cd8d,#19c4b3,#00bbce,#11b1df,#1ba6e9,#209cee,#2693f5,#288cfb)"></i><i style="background:linear-gradient(90deg,#7ace57,#34cc94,#11c2b9,#00b9d2,#14aee2,#1da3ea,#2199f1,#2790f7,#298afd)"></i><i style="background:linear-gradient(90deg,#6fcf5f,#2fca9b,#07c1be,#02b7d6,#16abe5,#1fa0ec,#2396f3,#288efa,#2987ff)"></i><i style="background:linear-gradient(90deg,#65cf68,#2bc9a1,#00bfc3,#09b4da,#19a8e7,#209dee,#2693f5,#298bfc,#2a85ff)"></i><i style="background:linear-gradient(90deg,#5bcf70,#27c7a7,#00bdc8,#0fb2de,#1ba5e9,#219af0,#2890f8,#2989fe,#2a82ff)"></i><i style="background:linear-gradient(90deg,#51cf79,#21c5ad,#00bbcd,#13afe2,#1ea2eb,#2397f3,#288dfa,#2986ff,#2b7fff)"></i><i style="background:linear-gradient(90deg,#47ce81,#1ac4b3,#00b9d2,#16ace5,#1f9eed,#2693f5,#298bfc,#2a84ff,#2d7dff)"></i><i style="background:linear-gradient(90deg,#3dcd89,#10c2b9,#03b6d7,#19a8e7,#209bef,#2890f8,#2988fe,#2b81ff,#307aff)"></i><i style="background:linear-gradient(90deg,#36cc91,#06c0bf,#0bb4db,#1ba5e9,#2297f2,#288dfa,#2a85ff,#2c7eff,#3377ff)"></i><i style="background:linear-gradient(90deg,#30ca99,#00bfc5,#11b0df,#1ea1eb,#2594f5,#298afd,#2a82ff,#2f7bff,#3774ff)"></i><i style="background:linear-gradient(90deg,#2bc9a1,#00bcca,#15ade3,#209ded,#2890f8,#2987ff,#2b7fff,#3278ff,#3a71ff)"></i><i style="background:linear-gradient(90deg,#26c7a8,#00bad0,#18a9e6,#219af0,#288dfa,#2a84ff,#2e7cff,#3675ff,#3c6eff)"></i><i style="background:linear-gradient(90deg,#1fc5af,#02b7d6,#1ba5e9,#2496f3,#298afd,#2b81ff,#3179ff,#3972ff,#3f6bff)"></i><i style="background:linear-gradient(90deg,#15c3b6,#0bb4db,#1ea1eb,#2791f7,#2987ff,#2c7eff,#3576ff,#3c6eff,#4068ff)"></i><i style="background:linear-gradient(90deg,#08c1bd,#11b0e0,#209ded,#288dfa,#2a83ff,#307bff,#3872ff,#3e6bff,#4265ff)"></i><i style="background:linear-gradient(90deg,#00bfc4,#15ace4,#2199f1,#298afd,#2b80ff,#3377ff,#3b6fff,#4068ff,#4362ff)"></i><i style="background:linear-gradient(90deg,#00bccb,#19a8e7,#2594f4,#2987ff,#2e7dff,#3773ff,#3e6cff,#4265ff,#445fff)"></i><i style="background:linear-gradient(90deg,#00b9d2,#1ca3ea,#288ff8,#2a83ff,#3179ff,#3a70ff,#4068ff,#4362ff,#455cff)"></i><i style="background:linear-gradient(90deg,#06b6d8,#1f9fed,#288cfb,#2b80ff,#3575ff,#3d6cff,#4265ff,#445fff,#4559ff)"></i><i style="background:linear-gradient(90deg,#0fb2de,#219af0,#2988fe,#2e7cff,#3971ff,#4069ff,#4362ff,#455cff,#4656ff)"></i><i style="background:linear-gradient(90deg,#15ade3,#2594f4,#2a84ff,#3378ff,#3d6dff,#4165ff,#445fff,#4559ff,#4653fe)"></i><i style="background:linear-gradient(90deg,#19a8e7,#288ff8,#2b80ff,#3773ff,#3f69ff,#4362ff,#455bff,#4656ff,#4650fc)"></i><i style="background:linear-gradient(90deg,#1da3ea,#298bfc,#2e7cff,#3b6fff,#4166ff,#445eff,#4558ff,#4653fe,#464dfa)"></i><i style="background:linear-gradient(90deg,#209dee,#2986ff,#3377ff,#3e6bff,#4362ff,#455bff,#4655ff,#464ffc,#464af8)"></i><i style="background:linear-gradient(90deg,#2397f2,#2a82ff,#3872ff,#4167ff,#445eff,#4557ff,#4652fd,#464cf9,#4647f5)"></i><i style="background:linear-gradient(90deg,#2791f7,#2d7dff,#3c6eff,#4363ff,#455aff,#4654ff,#464efb,#4649f7,#4644f2)"></i><i style="background:linear-gradient(90deg,#288bfb,#3278ff,#4069ff,#445eff,#4657ff,#4650fc,#464bf8,#4646f4,#4642f0)"></i><i style="background:linear-gradient(90deg,#2986ff,#3873ff,#4264ff,#455aff,#4653fe,#464dfa,#4648f5,#4643f1,#4640ee)"></i><i style="background:linear-gradient(90deg,#2b81ff,#3d6dff,#4460ff,#4656ff,#464ffb,#4649f7,#4644f2,#4641ef,#463eec)"></i><i style="background:linear-gradient(90deg,#2f7cff,#4068ff,#455bff,#4652fe,#464bf9,#4646f4,#4641ef,#463fec,#463ce9)"></i><i style="background:linear-gradient(90deg,#3575ff,#4363ff,#4657ff,#464efb,#4647f5,#4642f0,#463fed,#463dea,#463be7)"></i><i style="background:linear-gradient(90deg,#3b6fff,#445eff,#4652fd,#464af7,#4643f1,#4640ee,#463deb,#463be7,#4539e4)"></i><i style="background:linear-gradient(90deg,#4069ff,#4558ff,#464dfa,#4645f3,#4641ee,#463eeb,#463be8,#4539e5,#4537e1)"></i><i style="background:linear-gradient(90deg,#4363ff,#4653fe,#4649f6,#4642f0,#463eec,#463ce8,#4539e5,#4538e2,#4536de)"></i><i style="background:linear-gradient(90deg,#445dff,#464efa,#4644f2,#463fec,#463ce8,#4539e5,#4537e2,#4536de,#4434db)"></i><i style="background:linear-gradient(90deg,#4657ff,#4648f6,#4640ee,#463ce9,#4539e5,#4537e1,#4536de,#4434db,#4433d8)"></i><i style="background:linear-gradient(90deg,#4650fc,#4643f1,#463dea,#453ae5,#4537e1,#4535dd,#4434da,#4433d7,#4332d4)"></i><i style="background:linear-gradient(90deg,#464af8,#463fed,#453ae6,#4537e1,#4435dd,#4434d9,#4432d6,#4331d3,#4330d1)"></i><i style="background:linear-gradient(90deg,#4644f2,#463be8,#4537e1,#4435dc,#4433d8,#4332d5,#4331d2,#4330cf,#422fcd)"></i><i style="background:linear-gradient(90deg,#463fec,#4538e2,#4435dc,#4433d7,#4331d3,#4330d0,#422fcd,#422fcb,#422ec9)"></i><i style="background:linear-gradient(90deg,#453ae6,#4435dc,#4432d5,#4331d1,#432fce,#422ecb,#422ec9,#422dc7,#412cc5)"></i><i style="background:linear-gradient(90deg,#4536de,#4332d5,#4330cf,#422ecb,#422ec8,#412dc6,#412cc5,#412cc3,#412bc1)"></i><i style="background:linear-gradient(90deg,#4332d5,#422fcd,#422dc8,#412cc5,#412cc3,#412bc1,#412bc0,#402abf,#402abe)"></i><i style="background:linear-gradient(90deg,#422ecb,#412cc5,#412bc2,#402abf,#402abe,#4029bd,#4029bc,#4028bb,#4028ba)"></i><i style="background:linear-gradient(90deg,#412bc1,#4029bd,#4029bb,#4028b9,#3f28b8,#3f27b8,#3f27b7,#3f27b6,#3f27b6)"></i><i style="background:linear-gradient(90deg,#3f27b6,#3f26b4,#3f26b4,#3f26b3,#3e26b3,#3e26b2,#3e26b2,#3e26b2,#3e26b2)"></i></div>
<svg width="520" height="340" viewBox="0 0 520 340">
<clipPath id="cpa"><rect x="32" y="31.35" width="126.6" height="105.75"/></clipPath>
<g clip-path="url(#cpa)">
<line x1="32" y1="97.76" x2="160.6" y2="97.76" stroke="#fff" stroke-width="2.2" stroke-dasharray="7 6.3"/>
<line x1="32" y1="124.98" x2="160.6" y2="124.98" stroke="#fff" stroke-width="2.2" stroke-dasharray="7 6.3"/>
<polyline fill="none" stroke="#000" stroke-width="1.2" points="32.0,132.4 35.2,132.3 38.3,132.2 41.5,132.1 44.7,132.0 47.8,131.9 51.0,131.8 54.2,131.7 57.3,131.6 60.5,131.5 63.6,131.4 66.8,131.3 70.0,131.2 73.1,131.1 76.3,131.0 79.5,130.9 82.6,130.8 85.8,130.7 89.0,130.5 92.1,130.4 95.3,130.3 98.5,130.2 101.6,130.1 104.8,129.9 108.0,129.8 111.1,129.7 114.3,129.5 117.8,129.4"/>
<polyline fill="none" stroke="#000" stroke-width="1.2" points="135.8,128.6 139.6,128.4 142.8,128.3 145.9,128.1 149.1,128.0 152.3,127.8 155.4,127.7 158.6,127.5"/>
<text class="c" text-anchor="middle" transform="translate(126.8,129.0) rotate(-2.5)" y="3.6">10</text>
<polyline fill="none" stroke="#000" stroke-width="1.2" points="32.0,122.6 35.2,122.1 38.3,121.5 41.5,121.0 44.7,120.5 47.8,120.0 51.0,119.5 54.2,119.1 57.3,118.7 60.5,118.2 63.6,117.8 66.8,117.4 70.0,117.0 73.1,116.7 76.3,116.3 79.5,116.0 82.6,115.6 85.8,115.3 89.0,115.0 92.1,114.7 95.3,114.3 98.5,114.0 101.6,113.7 104.8,113.5 108.0,113.2 111.1,112.9 114.3,112.6 117.2,112.4"/>
<polyline fill="none" stroke="#000" stroke-width="1.2" points="135.2,110.8 136.4,110.7 139.6,110.4 142.8,110.1 145.9,109.9 149.1,109.6 152.3,109.3 155.4,109.0 158.6,108.7"/>
<text class="c" text-anchor="middle" transform="translate(126.2,111.6) rotate(-4.9)" y="3.6">30</text>
<polyline fill="none" stroke="#000" stroke-width="1.2" points="32.0,112.0 35.2,111.0 38.3,109.9 41.5,109.0 44.7,108.0 47.8,107.1 51.0,106.2 54.2,105.4 57.3,104.5 60.5,103.7 63.6,103.0 66.8,102.2 70.0,101.5 73.1,100.8 76.3,100.2 79.5,99.5 82.6,98.9 85.8,98.2 89.0,97.6 92.1,97.1 95.3,96.5 98.5,95.9 101.6,95.4 104.8,94.9 108.0,94.3 111.1,93.8 114.3,93.3 117.3,92.8"/>
<polyline fill="none" stroke="#000" stroke-width="1.2" points="135.1,90.0 136.4,89.8 139.6,89.3 142.8,88.8 145.9,88.3 149.1,87.8 152.3,87.2 155.4,86.7 158.6,86.1"/>
<text class="c" text-anchor="middle" transform="translate(126.2,91.4) rotate(-8.9)" y="3.6">50</text>
<polyline fill="none" stroke="#000" stroke-width="1.2" points="32.0,94.9 35.2,93.5 38.3,92.3 41.5,91.0 44.7,89.8 47.8,88.6 51.0,87.4 54.2,86.2 57.3,85.1 60.5,84.0 63.6,82.9 66.8,81.8 70.0,80.8 73.1,79.7 76.3,78.7 79.5,77.8 82.6,76.8 85.8,75.8 89.0,74.9 92.1,74.0 95.3,73.1 98.5,72.2 101.6,71.3 104.8,70.4 108.0,69.6 111.1,68.8 114.3,67.9 117.5,67.1"/>
<polyline fill="none" stroke="#000" stroke-width="1.2" points="134.9,62.8 136.4,62.4 139.6,61.7 142.8,60.9 145.9,60.2 149.1,59.4 152.3,58.7 155.4,57.9 158.6,57.2"/>
<text class="c" text-anchor="middle" transform="translate(126.2,64.9) rotate(-13.9)" y="3.6">70</text>
<polyline fill="none" stroke="#000" stroke-width="1.2" points="32.0,64.9 35.2,63.0 38.3,61.0 41.5,59.1 44.7,57.2 47.8,55.3 51.0,53.5 54.2,51.6 57.3,49.8 60.5,48.0 63.6,46.2 66.0,44.9"/>
<polyline fill="none" stroke="#000" stroke-width="1.2" points="81.9,36.4 85.8,34.4 89.0,32.7 92.1,31.2 95.3,29.6 98.5,28.0 101.6,26.5 104.8,25.0 108.0,23.5 111.1,22.0 114.3,20.6 117.5,19.2 120.6,17.7 123.8,16.4 126.9,15.0 130.1,13.7 133.3,12.3 136.4,11.0 139.6,9.7 142.8,8.5 145.9,7.2 149.1,6.0 152.3,4.8 155.4,3.6 158.6,2.5"/>
<text class="c" text-anchor="middle" transform="translate(74.0,40.6) rotate(-28.3)" y="3.6">90</text>
</g>
<rect x="32" y="31.35" width="126.6" height="105.75" fill="none" stroke="#000" stroke-width="1.4"/>
<text class="t" text-anchor="middle" x="32.0" y="153.2">0</text>
<text class="t" text-anchor="middle" x="63.6" y="153.2">0.5</text>
<text class="t" text-anchor="middle" x="95.3" y="153.2">1</text>
<text class="t" text-anchor="middle" x="126.9" y="153.2">1.5</text>
<text class="t" text-anchor="middle" x="158.6" y="153.2">2</text>
<text class="t" text-anchor="end" x="26.7" y="141.3">0</text>
<text class="t" text-anchor="end" x="26.7" y="120.1">1</text>
<text class="t" text-anchor="end" x="26.7" y="99.0">2</text>
<text class="t" text-anchor="end" x="26.7" y="77.8">3</text>
<text class="t" text-anchor="end" x="26.7" y="56.7">4</text>
<text class="t" text-anchor="end" x="26.7" y="35.5">5</text>
<text class="q" text-anchor="middle" x="95.3" y="22.3">Haze: <tspan class="s">g</tspan> = 0</text>
<text class="l" x="43.1" y="166.7">Absorption</text>
<text class="s" x="103.9" y="166.7">σ</text>
<text class="u" x="111.0" y="171.8">abs</text>
<text class="s" x="124.6" y="166.7">L</text>
<text class="l" x="136.3" y="166.7">(-)</text>
<g transform="translate(8.7,84.2) rotate(-90)">
<text class="l" x="-50" y="0">Scattering</text>
<text class="s" x="7" y="0">σ</text>
<text class="u" x="14.5" y="5">sca</text>
<text class="s" x="26.5" y="0">L</text>
<text class="l" x="39.5" y="0">(-)</text>
</g>
<text class="p" x="0.8" y="10.3">(a)</text>
<clipPath id="cpb"><rect x="210.1" y="31.35" width="126.3" height="105.75"/></clipPath>
<g clip-path="url(#cpb)">
<line x1="210.1" y1="106.86" x2="338.4" y2="106.86" stroke="#fff" stroke-width="2.2" stroke-dasharray="7 6.3"/>
<line x1="210.1" y1="129.49" x2="338.4" y2="129.49" stroke="#fff" stroke-width="2.2" stroke-dasharray="7 6.3"/>
<polyline fill="none" stroke="#000" stroke-width="1.2" points="210.1,134.6 213.3,134.6 216.4,134.6 219.6,134.6 222.7,134.5 225.9,134.5 229.0,134.5 232.2,134.4 235.4,134.4 238.5,134.4 241.7,134.4 244.8,134.3 248.0,134.3 251.1,134.3 254.3,134.3 257.5,134.3 260.6,134.2 263.8,134.2 266.9,134.2 270.1,134.2 273.2,134.1 276.4,134.1 279.6,134.1 282.7,134.1 285.9,134.1 289.0,134.0 292.2,134.0 295.6,134.0"/>
<polyline fill="none" stroke="#000" stroke-width="1.2" points="313.6,133.9 317.5,133.9 320.6,133.9 323.8,133.9 326.9,133.8 330.1,133.8 333.2,133.8 336.4,133.8"/>
<text class="c" text-anchor="middle" transform="translate(304.6,133.9) rotate(-0.3)" y="3.6">10</text>
<polyline fill="none" stroke="#000" stroke-width="1.2" points="210.1,127.6 213.3,127.4 216.4,127.3 219.6,127.2 222.7,127.0 225.9,126.9 229.0,126.8 232.2,126.7 235.4,126.5 238.5,126.4 241.7,126.3 244.8,126.2 248.0,126.1 251.1,126.0 254.3,125.9 257.5,125.8 260.6,125.7 263.8,125.6 266.9,125.5 270.1,125.4 273.2,125.3 276.4,125.2 279.6,125.1 282.7,125.0 285.9,124.9 289.0,124.9 292.2,124.8 295.1,124.7"/>
<polyline fill="none" stroke="#000" stroke-width="1.2" points="313.1,124.3 317.5,124.2 320.6,124.2 323.8,124.1 326.9,124.0 330.1,124.0 333.2,123.9 336.4,123.9"/>
<text class="c" text-anchor="middle" transform="translate(304.1,124.5) rotate(-1.3)" y="3.6">30</text>
<polyline fill="none" stroke="#000" stroke-width="1.2" points="210.1,119.3 213.3,118.9 216.4,118.5 219.6,118.2 222.7,117.8 225.9,117.5 229.0,117.2 232.2,116.9 235.4,116.6 238.5,116.4 241.7,116.1 244.8,115.8 248.0,115.6 251.1,115.4 254.3,115.1 257.5,114.9 260.6,114.7 263.8,114.5 266.9,114.3 270.1,114.1 273.2,114.0 276.4,113.8 279.6,113.6 282.7,113.5 285.9,113.3 289.0,113.1 292.2,113.0 295.1,112.8"/>
<polyline fill="none" stroke="#000" stroke-width="1.2" points="313.1,111.9 317.5,111.7 320.6,111.5 323.8,111.3 326.9,111.1 330.1,110.9 333.2,110.8 336.4,110.6"/>
<text class="c" text-anchor="middle" transform="translate(304.1,112.4) rotate(-2.9)" y="3.6">50</text>
<polyline fill="none" stroke="#000" stroke-width="1.2" points="210.1,104.6 213.3,104.0 216.4,103.4 219.6,102.9 222.7,102.4 225.9,101.9 229.0,101.4 232.2,101.0 235.4,100.5 238.5,100.1 241.7,99.7 244.8,99.4 248.0,99.0 251.1,98.6 254.3,98.3 257.5,98.0 260.6,97.7 263.8,97.4 266.9,97.1 270.1,96.8 273.2,96.5 276.4,96.3 279.6,96.0 282.7,95.7 285.9,95.5 289.0,95.3 292.2,95.0 295.1,94.8"/>
<polyline fill="none" stroke="#000" stroke-width="1.2" points="313.0,93.4 317.5,93.1 320.6,92.8 323.8,92.6 326.9,92.3 330.1,92.0 333.2,91.8 336.4,91.5"/>
<text class="c" text-anchor="middle" transform="translate(304.1,94.1) rotate(-4.3)" y="3.6">70</text>
<polyline fill="none" stroke="#000" stroke-width="1.2" points="210.1,75.9 213.3,74.8 216.4,73.8 219.6,72.8 222.7,71.8 225.9,70.9 229.0,70.0 232.2,69.2 235.4,68.4 238.5,67.6 241.7,66.9 244.8,66.2 248.0,65.5 251.1,64.9 254.3,64.3 257.5,63.7 260.6,63.1 263.8,62.6 266.9,62.1 270.1,61.6 273.2,61.1 276.4,60.6 279.6,60.2 282.7,59.7 285.9,59.3 289.0,58.9 292.2,58.4 295.2,58.0"/>
<polyline fill="none" stroke="#000" stroke-width="1.2" points="313.0,55.6 314.3,55.4 317.5,54.9 320.6,54.5 323.8,54.0 326.9,53.5 330.1,52.9 333.2,52.4 336.4,51.8"/>
<text class="c" text-anchor="middle" transform="translate(304.1,56.8) rotate(-7.8)" y="3.6">90</text>
</g>
<rect x="210.1" y="31.35" width="126.3" height="105.75" fill="none" stroke="#000" stroke-width="1.4"/>
<text class="t" text-anchor="middle" x="210.1" y="153.2">0</text>
<text class="t" text-anchor="middle" x="241.7" y="153.2">0.5</text>
<text class="t" text-anchor="middle" x="273.2" y="153.2">1</text>
<text class="t" text-anchor="middle" x="304.8" y="153.2">1.5</text>
<text class="t" text-anchor="middle" x="336.4" y="153.2">2</text>
<text class="t" text-anchor="end" x="204.8" y="141.3">0</text>
<text class="t" text-anchor="end" x="204.8" y="120.1">1</text>
<text class="t" text-anchor="end" x="204.8" y="99.0">2</text>
<text class="t" text-anchor="end" x="204.8" y="77.8">3</text>
<text class="t" text-anchor="end" x="204.8" y="56.7">4</text>
<text class="t" text-anchor="end" x="204.8" y="35.5">5</text>
<text class="q" text-anchor="middle" x="273.2" y="22.3">Haze: <tspan class="s">g</tspan> = 0.5</text>
<text class="l" x="221.1" y="166.7">Absorption</text>
<text class="s" x="281.9" y="166.7">σ</text>
<text class="u" x="288.9" y="171.8">abs</text>
<text class="s" x="302.6" y="166.7">L</text>
<text class="l" x="314.2" y="166.7">(-)</text>
<g transform="translate(186.8,84.2) rotate(-90)">
<text class="l" x="-50" y="0">Scattering</text>
<text class="s" x="7" y="0">σ</text>
<text class="u" x="14.5" y="5">sca</text>
<text class="s" x="26.5" y="0">L</text>
<text class="l" x="39.5" y="0">(-)</text>
</g>
<text class="p" x="174.2" y="10.3">(b)</text>
<clipPath id="cpc"><rect x="386.85" y="31.35" width="126.25" height="105.75"/></clipPath>
<g clip-path="url(#cpc)">
<line x1="386.85" y1="89.94" x2="515.1" y2="89.94" stroke="#fff" stroke-width="2.2" stroke-dasharray="7 6.3"/>
<line x1="386.85" y1="118.40" x2="515.1" y2="118.40" stroke="#fff" stroke-width="2.2" stroke-dasharray="7 6.3"/>
<polyline fill="none" stroke="#000" stroke-width="1.2" points="386.9,129.6 390.0,129.2 393.2,128.7 396.3,128.3 399.5,127.9 402.6,127.5 405.8,127.1 408.9,126.7 412.1,126.4 415.3,126.0 418.4,125.7 421.6,125.3 424.7,125.0 427.9,124.7 431.0,124.4 434.2,124.1 437.4,123.8 440.5,123.5 443.7,123.2 446.8,122.9 450.0,122.6 453.1,122.4 456.3,122.1 459.4,121.8 462.6,121.5 465.8,121.3 468.9,121.0 472.4,120.7"/>
<polyline fill="none" stroke="#000" stroke-width="1.2" points="490.3,119.1 494.2,118.7 497.3,118.4 500.5,118.1 503.6,117.8 506.8,117.5 509.9,117.2 513.1,116.9"/>
<text class="c" text-anchor="middle" transform="translate(481.3,119.9) rotate(-5.1)" y="3.6">10</text>
<polyline fill="none" stroke="#000" stroke-width="1.2" points="386.9,116.7 390.0,115.8 393.2,114.9 396.3,114.1 399.5,113.2 402.6,112.4 405.8,111.6 408.9,110.8 412.1,110.0 415.3,109.3 418.4,108.5 421.6,107.8 424.7,107.0 427.9,106.3 431.0,105.6 434.2,104.9 437.4,104.3 440.5,103.6 443.7,102.9 446.8,102.3 450.0,101.6 453.1,101.0 456.3,100.4 459.4,99.8 462.6,99.2 465.8,98.6 468.9,98.0 471.9,97.4"/>
<polyline fill="none" stroke="#000" stroke-width="1.2" points="489.6,94.2 491.0,93.9 494.2,93.4 497.3,92.8 500.5,92.3 503.6,91.7 506.8,91.2 509.9,90.6 513.1,90.0"/>
<text class="c" text-anchor="middle" transform="translate(480.8,95.8) rotate(-10.3)" y="3.6">30</text>
<polyline fill="none" stroke="#000" stroke-width="1.2" points="386.9,104.4 390.0,103.1 393.2,101.8 396.3,100.5 399.5,99.2 402.6,98.0 405.8,96.7 408.9,95.5 412.1,94.3 415.3,93.1 418.4,91.9 421.6,90.8 424.7,89.6 427.9,88.5 431.0,87.3 434.2,86.2 437.4,85.1 440.5,84.0 443.7,82.9 446.8,81.8 450.0,80.8 453.1,79.7 456.3,78.7 459.4,77.6 462.6,76.6 465.8,75.6 468.9,74.5 472.2,73.5"/>
<polyline fill="none" stroke="#000" stroke-width="1.2" points="489.4,68.0 491.0,67.5 494.2,66.5 497.3,65.5 500.5,64.5 503.6,63.5 506.8,62.5 509.9,61.5 513.1,60.5"/>
<text class="c" text-anchor="middle" transform="translate(480.8,70.7) rotate(-17.7)" y="3.6">50</text>
<polyline fill="none" stroke="#000" stroke-width="1.2" points="386.9,86.7 390.0,84.7 393.2,82.7 396.3,80.7 399.5,78.8 402.6,76.9 405.8,75.0 408.9,73.2 412.1,71.4 415.3,69.6 418.4,67.9 421.6,66.2 424.7,64.5 427.9,62.8 431.0,61.2 434.2,59.6 437.4,58.0 440.5,56.5 443.7,55.0 446.8,53.5 450.0,52.0 453.1,50.5 456.3,49.1 460.1,47.3"/>
<polyline fill="none" stroke="#000" stroke-width="1.2" points="476.6,40.1 478.4,39.3 481.5,38.0 484.7,36.7 487.9,35.3 491.0,34.0 494.2,32.7 497.3,31.4 500.5,30.1 503.6,28.8 506.8,27.5 509.9,26.2 513.1,24.9"/>
<text class="c" text-anchor="middle" transform="translate(468.3,43.7) rotate(-23.7)" y="3.6">70</text>
<polyline fill="none" stroke="#000" stroke-width="1.2" points="386.9,57.2 390.0,54.1 393.2,51.1 396.7,47.7"/>
<polyline fill="none" stroke="#000" stroke-width="1.2" points="409.9,35.4 412.1,33.4 415.3,30.6 418.4,27.8 421.6,25.1 424.7,22.4 427.9,19.7 431.0,17.1 434.2,14.5 437.4,12.0 440.5,9.4 443.7,7.0 446.8,4.5 450.0,2.1 453.1,-0.3 456.3,-2.6 459.4,-4.9 462.6,-7.1 465.8,-9.4 468.9,-11.5 472.1,-13.7 475.2,-15.8 478.4,-17.9 481.5,-19.9 484.7,-21.9 487.9,-23.9 491.0,-25.8 494.2,-27.7 497.3,-29.5 500.5,-31.3 503.6,-33.1 506.8,-34.9 509.9,-36.6 513.1,-38.2"/>
<text class="c" text-anchor="middle" transform="translate(403.3,41.5) rotate(-42.9)" y="3.6">90</text>
</g>
<rect x="386.85" y="31.35" width="126.25" height="105.75" fill="none" stroke="#000" stroke-width="1.4"/>
<text class="t" text-anchor="middle" x="386.9" y="153.2">0</text>
<text class="t" text-anchor="middle" x="418.4" y="153.2">0.5</text>
<text class="t" text-anchor="middle" x="450.0" y="153.2">1</text>
<text class="t" text-anchor="middle" x="481.5" y="153.2">1.5</text>
<text class="t" text-anchor="middle" x="513.1" y="153.2">2</text>
<text class="t" text-anchor="end" x="381.6" y="141.3">0</text>
<text class="t" text-anchor="end" x="381.6" y="120.1">1</text>
<text class="t" text-anchor="end" x="381.6" y="99.0">2</text>
<text class="t" text-anchor="end" x="381.6" y="77.8">3</text>
<text class="t" text-anchor="end" x="381.6" y="56.7">4</text>
<text class="t" text-anchor="end" x="381.6" y="35.5">5</text>
<text class="q" text-anchor="middle" x="450.0" y="22.3">Haze: <tspan class="s">g</tspan> = -0.5</text>
<text class="l" x="397.8" y="166.7">Absorption</text>
<text class="s" x="458.6" y="166.7">σ</text>
<text class="u" x="465.7" y="171.8">abs</text>
<text class="s" x="479.3" y="166.7">L</text>
<text class="l" x="491.0" y="166.7">(-)</text>
<g transform="translate(363.6,84.2) rotate(-90)">
<text class="l" x="-50" y="0">Scattering</text>
<text class="s" x="7" y="0">σ</text>
<text class="u" x="14.5" y="5">sca</text>
<text class="s" x="26.5" y="0">L</text>
<text class="l" x="39.5" y="0">(-)</text>
</g>
<text class="p" x="347.8" y="10.3">(c)</text>
<clipPath id="cpd"><rect x="60.9" y="196.9" width="126.6" height="106.2"/></clipPath><g clip-path="url(#cpd)">
<polyline fill="none" stroke="#0072bd" stroke-width="1.75" points="60.9,210.2 63.0,211.4 65.1,212.5 67.2,213.7 69.3,214.8 71.4,215.8 73.5,216.9 75.6,217.9 77.6,218.9 79.7,219.9 81.8,220.9 83.9,221.8 86.0,222.7 88.1,223.6 90.2,224.4 92.3,225.3 94.4,226.1 96.5,226.9 98.6,227.7 100.7,228.4 102.8,229.2 104.9,229.9 107.0,230.6 109.0,231.2 111.1,231.9 113.2,232.6 115.3,233.2 117.4,233.8 119.5,234.4 121.6,235.0 123.7,235.5 125.8,236.1 127.9,236.6 130.0,237.2 132.1,237.7 134.2,238.2 136.3,238.7 138.4,239.1 140.4,239.6 142.5,240.1 144.6,240.5 146.7,241.0 148.8,241.4 150.9,241.8 153.0,242.2 155.1,242.6 157.2,243.0 159.3,243.4 161.4,243.8 163.5,244.2 165.6,244.5 167.7,244.9 169.8,245.3 171.8,245.6 173.9,246.0 176.0,246.4 178.1,246.7 180.2,247.1 182.3,247.4 184.4,247.8 186.5,248.1"/>
<polyline fill="none" stroke="#d95319" stroke-width="1.75" points="60.9,210.2 63.0,211.0 65.1,211.7 67.2,212.5 69.3,213.1 71.4,213.8 73.5,214.3 75.6,214.9 77.6,215.4 79.7,215.9 81.8,216.3 83.9,216.8 86.0,217.2 88.1,217.6 90.2,217.9 92.3,218.3 94.4,218.6 96.5,218.9 98.6,219.2 100.7,219.5 102.8,219.7 104.9,220.0 107.0,220.2 109.0,220.5 111.1,220.7 113.2,221.0 115.3,221.2 117.4,221.4 119.5,221.7 121.6,221.9 123.7,222.1 125.8,222.4 127.9,222.6 130.0,222.8 132.1,223.1 134.2,223.3 136.3,223.5 138.4,223.8 140.4,224.0 142.5,224.3 144.6,224.5 146.7,224.7 148.8,225.0 150.9,225.2 153.0,225.5 155.1,225.7 157.2,225.9 159.3,226.2 161.4,226.4 163.5,226.6 165.6,226.8 167.7,227.0 169.8,227.2 171.8,227.4 173.9,227.6 176.0,227.8 178.1,227.9 180.2,228.0 182.3,228.1 184.4,228.2 186.5,228.3"/>
<polyline fill="none" stroke="#edb120" stroke-width="1.75" points="60.9,210.2 63.0,211.8 65.1,213.3 67.2,214.9 69.3,216.4 71.4,217.8 73.5,219.3 75.6,220.7 77.6,222.1 79.7,223.5 81.8,224.8 83.9,226.1 86.0,227.4 88.1,228.7 90.2,229.9 92.3,231.1 94.4,232.3 96.5,233.4 98.6,234.6 100.7,235.7 102.8,236.8 104.9,237.8 107.0,238.9 109.0,239.9 111.1,240.8 113.2,241.8 115.3,242.8 117.4,243.7 119.5,244.6 121.6,245.4 123.7,246.3 125.8,247.1 127.9,247.9 130.0,248.7 132.1,249.5 134.2,250.2 136.3,250.9 138.4,251.7 140.4,252.3 142.5,253.0 144.6,253.6 146.7,254.3 148.8,254.9 150.9,255.5 153.0,256.0 155.1,256.6 157.2,257.1 159.3,257.6 161.4,258.2 163.5,258.6 165.6,259.1 167.7,259.6 169.8,260.0 171.8,260.4 173.9,260.8 176.0,261.2 178.1,261.6 180.2,261.9 182.3,262.3 184.4,262.6 186.5,262.9"/>
<polyline fill="none" stroke="#0072bd" stroke-width="1.75" points="60.9,263.5 63.0,264.3 65.1,265.0 67.2,265.6 69.3,266.3 71.4,266.9 73.5,267.6 75.6,268.2 77.6,268.8 79.7,269.4 81.8,269.9 83.9,270.5 86.0,271.0 88.1,271.5 90.2,272.0 92.3,272.5 94.4,273.0 96.5,273.5 98.6,273.9 100.7,274.3 102.8,274.8 104.9,275.2 107.0,275.6 109.0,275.9 111.1,276.3 113.2,276.7 115.3,277.0 117.4,277.4 119.5,277.7 121.6,278.0 123.7,278.3 125.8,278.6 127.9,278.9 130.0,279.2 132.1,279.4 134.2,279.7 136.3,279.9 138.4,280.2 140.4,280.4 142.5,280.6 144.6,280.8 146.7,281.0 148.8,281.2 150.9,281.4 153.0,281.6 155.1,281.8 157.2,281.9 159.3,282.1 161.4,282.3 163.5,282.4 165.6,282.5 167.7,282.7 169.8,282.8 171.8,283.0 173.9,283.1 176.0,283.2 178.1,283.3 180.2,283.4 182.3,283.5 184.4,283.6 186.5,283.8"/>
<polyline fill="none" stroke="#d95319" stroke-width="1.75" points="60.9,263.5 63.0,264.0 65.1,264.5 67.2,264.9 69.3,265.3 71.4,265.7 73.5,266.0 75.6,266.4 77.6,266.7 79.7,267.0 81.8,267.3 83.9,267.6 86.0,267.8 88.1,268.1 90.2,268.3 92.3,268.5 94.4,268.7 96.5,268.9 98.6,269.1 100.7,269.3 102.8,269.5 104.9,269.6 107.0,269.8 109.0,270.0 111.1,270.1 113.2,270.3 115.3,270.4 117.4,270.6 119.5,270.7 121.6,270.8 123.7,271.0 125.8,271.1 127.9,271.2 130.0,271.4 132.1,271.5 134.2,271.6 136.3,271.8 138.4,271.9 140.4,272.0 142.5,272.2 144.6,272.3 146.7,272.4 148.8,272.6 150.9,272.7 153.0,272.8 155.1,273.0 157.2,273.1 159.3,273.2 161.4,273.3 163.5,273.5 165.6,273.6 167.7,273.7 169.8,273.8 171.8,273.9 173.9,274.1 176.0,274.2 178.1,274.3 180.2,274.3 182.3,274.4 184.4,274.5 186.5,274.6"/>
<polyline fill="none" stroke="#edb120" stroke-width="1.75" points="60.9,263.5 63.0,264.5 65.1,265.4 67.2,266.3 69.3,267.2 71.4,268.1 73.5,269.0 75.6,269.8 77.6,270.6 79.7,271.4 81.8,272.2 83.9,272.9 86.0,273.7 88.1,274.4 90.2,275.1 92.3,275.7 94.4,276.4 96.5,277.0 98.6,277.7 100.7,278.3 102.8,278.8 104.9,279.4 107.0,280.0 109.0,280.5 111.1,281.0 113.2,281.5 115.3,282.0 117.4,282.5 119.5,282.9 121.6,283.4 123.7,283.8 125.8,284.2 127.9,284.6 130.0,284.9 132.1,285.3 134.2,285.6 136.3,285.9 138.4,286.3 140.4,286.6 142.5,286.8 144.6,287.1 146.7,287.4 148.8,287.6 150.9,287.8 153.0,288.0 155.1,288.2 157.2,288.4 159.3,288.6 161.4,288.7 163.5,288.9 165.6,289.0 167.7,289.1 169.8,289.3 171.8,289.4 173.9,289.4 176.0,289.5 178.1,289.6 180.2,289.6 182.3,289.7 184.4,289.7 186.5,289.7"/>
</g>
<rect x="60.9" y="196.9" width="125.6" height="106.2" fill="none" stroke="#141414" stroke-width="1.3"/>
<path d="M92.3 303.1 v-1.8 M92.3 196.9 v1.8 M123.7 303.1 v-1.8 M123.7 196.9 v1.8 M155.1 303.1 v-1.8 M155.1 196.9 v1.8 M60.9 276.6 h1.8 M186.5 276.6 h-1.8 M60.9 250.0 h1.8 M186.5 250.0 h-1.8 M60.9 223.5 h1.8 M186.5 223.5 h-1.8" stroke="#141414" stroke-width="1" fill="none"/>
<text class="t" text-anchor="middle" x="60.9" y="318.6">0</text>
<text class="t" text-anchor="middle" x="92.3" y="318.6">0.5</text>
<text class="t" text-anchor="middle" x="123.7" y="318.6">1</text>
<text class="t" text-anchor="middle" x="155.1" y="318.6">1.5</text>
<text class="t" text-anchor="middle" x="186.5" y="318.6">2</text>
<text class="t" text-anchor="end" x="55.3" y="306.9">0</text>
<text class="t" text-anchor="end" x="55.3" y="280.4">20</text>
<text class="t" text-anchor="end" x="55.3" y="253.8">40</text>
<text class="t" text-anchor="end" x="55.3" y="227.3">60</text>
<text class="t" text-anchor="end" x="55.3" y="200.7">80</text>
<text class="m" x="24.6" y="189.4">(d)</text>
<text class="l" x="71.5" y="332.6">Absorption</text>
<text class="s" x="132.3" y="332.6">σ</text>
<text class="u" x="139.4" y="337.7">abs</text>
<text class="s" x="153.0" y="332.6">L</text>
<text class="l" x="164.7" y="332.6">(-)</text>
<text class="h" text-anchor="middle" transform="translate(37.7,251.5) rotate(-90)">Haze (%)</text>
<rect x="190.4" y="225.1" width="70.8" height="51.8" fill="#fff" stroke="#141414" stroke-width="1.2"/>
<line x1="193.5" y1="235.1" x2="212.5" y2="235.1" stroke="#0072bd" stroke-width="1.75"/>
<text class="k" x="217.6" y="238.3"><tspan class="g">g</tspan> = 0</text>
<line x1="193.5" y1="251.0" x2="212.5" y2="251.0" stroke="#d95319" stroke-width="1.75"/>
<text class="k" x="217.6" y="254.2"><tspan class="g">g</tspan> = 0.5</text>
<line x1="193.5" y1="266.9" x2="212.5" y2="266.9" stroke="#edb120" stroke-width="1.75"/>
<text class="k" x="217.6" y="270.1"><tspan class="g">g</tspan> = -0.5</text>
<clipPath id="cpe"><rect x="317.9" y="197.1" width="126.9" height="112"/></clipPath><g clip-path="url(#cpe)">
<polyline fill="none" stroke="#0072bd" stroke-width="1.75" points="317.9,308.1 318.5,306.4 319.2,304.9 319.8,303.5 320.4,302.1 321.0,300.8 321.7,299.5 322.3,298.2 322.9,297.0 323.6,295.7 324.2,294.6 325.5,292.2 328.0,287.8 330.5,283.6 333.0,279.6 335.5,275.8 338.0,272.2 340.6,268.8 343.1,265.6 345.6,262.6 348.1,259.7 350.6,257.0 353.2,254.5 355.7,252.1 358.2,249.9 360.7,247.8 363.2,246.0 365.7,244.2 368.3,242.7 370.8,241.3 373.3,240.1 375.8,239.0 378.3,238.1 380.8,237.4 383.4,236.9 385.9,236.5 388.4,236.3 390.9,236.3 393.4,236.5 396.0,236.8 398.5,237.4 401.0,238.2 403.5,239.1 406.0,240.3 408.5,241.7 411.1,243.4 413.6,245.2 416.1,247.4 418.6,249.8 421.1,252.6 423.7,255.7 426.2,259.1 428.7,263.0 431.2,267.3 433.7,272.2 436.2,277.9 437.5,281.1 438.1,282.8 438.8,284.6 439.4,286.4 440.0,288.5 440.7,290.6 441.3,292.9 441.9,295.5 442.5,298.4 442.7,299.1 442.8,299.7 442.9,300.4 443.0,301.2 443.2,302.0 443.3,302.8 443.4,303.7 443.5,304.7 443.7,306.0 443.8,308.1"/>
<polyline fill="none" stroke="#d95319" stroke-width="1.75" points="317.9,308.1 318.5,307.3 319.2,306.7 319.8,306.0 320.4,305.4 321.0,304.8 321.7,304.2 322.3,303.7 322.9,303.1 323.6,302.6 324.2,302.0 325.5,301.0 328.0,299.0 330.5,297.1 333.0,295.2 335.5,293.5 338.0,291.8 340.6,290.2 343.1,288.7 345.6,287.2 348.1,285.8 350.6,284.5 353.2,283.3 355.7,282.1 358.2,281.0 360.7,279.9 363.2,279.0 365.7,278.1 368.3,277.2 370.8,276.5 373.3,275.8 375.8,275.2 378.3,274.7 380.8,274.3 383.4,274.0 385.9,273.7 388.4,273.6 390.9,273.5 393.4,273.5 396.0,273.7 398.5,273.9 401.0,274.2 403.5,274.7 406.0,275.3 408.5,276.0 411.1,276.8 413.6,277.7 416.1,278.8 418.6,280.1 421.1,281.5 423.7,283.1 426.2,284.9 428.7,286.9 431.2,289.2 433.7,291.7 436.2,294.6 437.5,296.2 438.1,297.0 438.8,297.9 439.4,298.9 440.0,299.8 440.7,300.9 441.3,301.9 441.9,303.1 442.5,304.4 442.7,304.7 442.8,305.0 442.9,305.3 443.0,305.6 443.2,305.9 443.3,306.3 443.4,306.6 443.5,307.0 443.7,307.5 443.8,308.1"/>
<polyline fill="none" stroke="#edb120" stroke-width="1.75" points="317.9,308.1 318.5,305.9 319.2,304.0 319.8,302.1 320.4,300.2 321.0,298.4 321.7,296.6 322.3,294.9 322.9,293.2 323.6,291.5 324.2,289.8 325.5,286.5 328.0,280.2 330.5,274.2 333.0,268.5 335.5,263.0 338.0,257.7 340.6,252.7 343.1,247.9 345.6,243.4 348.1,239.1 350.6,235.0 353.2,231.1 355.7,227.4 358.2,224.0 360.7,220.8 363.2,217.9 365.7,215.1 368.3,212.7 370.8,210.4 373.3,208.4 375.8,206.6 378.3,205.1 380.8,203.9 383.4,202.9 385.9,202.1 388.4,201.7 390.9,201.5 393.4,201.6 396.0,202.0 398.5,202.7 401.0,203.7 403.5,205.0 406.0,206.7 408.5,208.7 411.1,211.1 413.6,213.9 416.1,217.1 418.6,220.8 421.1,224.9 423.7,229.6 426.2,234.9 428.7,240.7 431.2,247.4 433.7,254.9 436.2,263.5 437.5,268.4 438.1,271.0 438.8,273.7 439.4,276.6 440.0,279.6 440.7,282.8 441.3,286.3 441.9,290.2 442.5,294.5 442.7,295.4 442.8,296.4 442.9,297.4 443.0,298.5 443.2,299.6 443.3,300.8 443.4,302.1 443.5,303.6 443.7,305.3 443.8,308.1"/>
</g>
<rect x="317.9" y="197.1" width="125.9" height="111" fill="none" stroke="#141414" stroke-width="1.3"/>
<path d="M349.4 308.1 v-1.8 M349.4 197.1 v1.8 M380.9 308.1 v-1.8 M380.9 197.1 v1.8 M412.3 308.1 v-1.8 M412.3 197.1 v1.8 M317.9 285.9 h1.8 M443.8 285.9 h-1.8 M317.9 263.7 h1.8 M443.8 263.7 h-1.8 M317.9 241.5 h1.8 M443.8 241.5 h-1.8 M317.9 219.3 h1.8 M443.8 219.3 h-1.8" stroke="#141414" stroke-width="1" fill="none"/>
<text class="t" text-anchor="middle" x="317.9" y="323.8">0</text>
<text class="t" text-anchor="middle" x="349.4" y="323.8">25</text>
<text class="t" text-anchor="middle" x="380.9" y="323.8">50</text>
<text class="t" text-anchor="middle" x="412.3" y="323.8">75</text>
<text class="t" text-anchor="middle" x="443.8" y="323.8">100</text>
<text class="t" text-anchor="end" x="312.3" y="311.9">0</text>
<text class="t" text-anchor="end" x="312.3" y="289.7">10</text>
<text class="t" text-anchor="end" x="312.3" y="267.5">20</text>
<text class="t" text-anchor="end" x="312.3" y="245.3">30</text>
<text class="t" text-anchor="end" x="312.3" y="223.1">40</text>
<text class="t" text-anchor="end" x="312.3" y="200.9">50</text>
<text class="m" x="281.2" y="189.4">(e)</text>
<text class="h" text-anchor="middle" x="380.7" y="337.3" style="font-weight:bold;stroke:none">Haze (%)</text>
<text class="h" text-anchor="middle" transform="translate(294,252.3) rotate(-90)">HAS (%/-)</text>
<rect x="448.4" y="225.1" width="75" height="51.8" fill="#fff" stroke="#141414" stroke-width="1.2"/>
<line x1="451.5" y1="235.1" x2="470.5" y2="235.1" stroke="#0072bd" stroke-width="1.75"/>
<text class="k" x="475.8" y="238.3"><tspan class="g">g</tspan> = 0</text>
<line x1="451.5" y1="251.0" x2="470.5" y2="251.0" stroke="#d95319" stroke-width="1.75"/>
<text class="k" x="475.8" y="254.2"><tspan class="g">g</tspan> = 0.5</text>
<line x1="451.5" y1="266.9" x2="470.5" y2="266.9" stroke="#edb120" stroke-width="1.75"/>
<text class="k" x="475.8" y="270.1"><tspan class="g">g</tspan> = -0.5</text>
</svg>
</div></body></html>
